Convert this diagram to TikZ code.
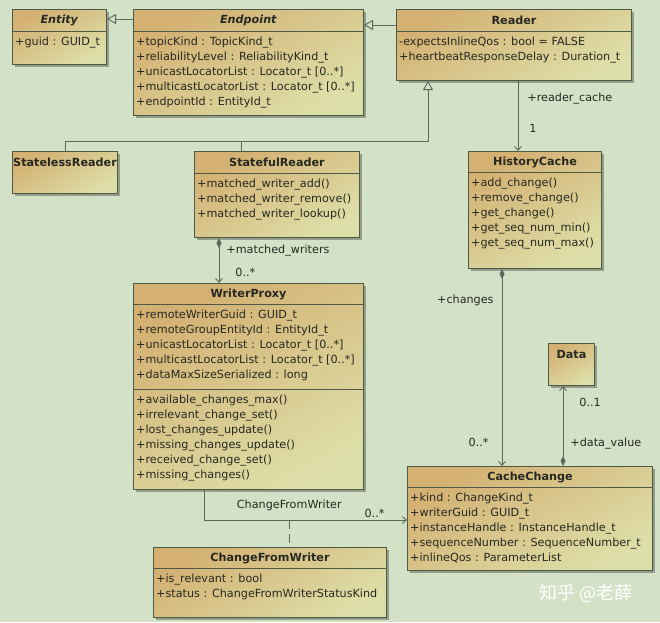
\documentclass[tikz,border=0pt]{standalone}
\usepackage{fontspec}
\setmainfont{DejaVu Sans}
\newfontfamily\cjkfont{Noto Sans CJK SC}
\usepackage{tikz}
\usetikzlibrary{arrows.meta,shadows}

\definecolor{bgcol}{RGB}{211,226,199}
\definecolor{tancol}{RGB}{212,176,114}
\definecolor{palecol}{RGB}{221,223,168}
\definecolor{edgecol}{RGB}{78,90,72}
\definecolor{linecol}{RGB}{92,104,90}
\definecolor{txtcol}{RGB}{38,40,34}

\begin{document}
\begin{tikzpicture}[
  x=1pt, y=-1pt,
  font=\fontsize{11.2}{15}\selectfont, text=txtcol,
  umlclass/.style={draw=edgecol, line width=1pt, anchor=north west,
              inner sep=0pt, top color=tancol, bottom color=palecol,
              shading angle=30,
              drop shadow={shadow xshift=2.5pt, shadow yshift=-2.5pt,
                           opacity=0.3, fill=black}},
  title/.style={font=\fontsize{11.2}{15}\selectfont\bfseries, inner sep=0pt},
  attrs/.style={anchor=north west, align=left, inner sep=0pt},
  sep/.style={draw=edgecol, line width=0.8pt},
  line/.style={draw=linecol, line width=0.9pt},
  gen/.style={line, -{Triangle[open, length=9pt, width=10pt, fill=bgcol]}},
  nav/.style={line, -{Straight Barb[length=4pt, width=7pt]}},
  comp/.style={line, {Diamond[length=10pt, width=5pt]}-{Straight Barb[length=4pt, width=7pt]}},
  lbl/.style={inner sep=1pt}
]
\fill[bgcol] (0,0) rectangle (660,622);
\useasboundingbox (0,0) rectangle (660,622);

% classes
\node[umlclass, minimum width=94pt, minimum height=55pt] (entity) at (12,9) {};
\node[umlclass, minimum width=230pt, minimum height=106pt] (endpoint) at (133,9) {};
\node[umlclass, minimum width=235pt, minimum height=71pt] (reader) at (396,9) {};
\node[umlclass, minimum width=105pt, minimum height=42pt] (stateless) at (12,151) {};
\node[umlclass, minimum width=165pt, minimum height=86pt] (stateful) at (194,151) {};
\node[umlclass, minimum width=133pt, minimum height=117pt] (history) at (468,151) {};
\node[umlclass, minimum width=230pt, minimum height=206pt] (writerproxy) at (133,283) {};
\node[umlclass, minimum width=46pt, minimum height=42pt] (data) at (548,343) {};
\node[umlclass, minimum width=245pt, minimum height=104pt] (cachechange) at (407,466) {};
\node[umlclass, minimum width=233pt, minimum height=70pt] (changefromwriter) at (153,547) {};

% titles
\node[title] (entitytitle) at ([yshift=-11pt]entity.north) {\textit{Entity}};
\node[title] (endpointtitle) at ([yshift=-11pt]endpoint.north) {\textit{Endpoint}};
\node[title] (readertitle) at ([yshift=-11pt]reader.north) {Reader};
\node[title] (statelesstitle) at ([yshift=-11pt]stateless.north) {StatelessReader};
\node[title] (statefultitle) at ([yshift=-11pt]stateful.north) {StatefulReader};
\node[title] (historytitle) at ([yshift=-11pt]history.north) {HistoryCache};
\node[title] (writerproxytitle) at ([yshift=-11pt]writerproxy.north) {WriterProxy};
\node[title] (datatitle) at ([yshift=-11pt]data.north) {Data};
\node[title] (cachechangetitle) at ([yshift=-11pt]cachechange.north) {CacheChange};
\node[title] (changefromwritertitle) at ([yshift=-11pt]changefromwriter.north) {ChangeFromWriter};

% compartments
\draw[sep] ([yshift=-22pt]entity.north west) -- ([yshift=-22pt]entity.north east);
\draw[sep] ([yshift=-22pt]endpoint.north west) -- ([yshift=-22pt]endpoint.north east);
\draw[sep] ([yshift=-22pt]reader.north west) -- ([yshift=-22pt]reader.north east);
\draw[sep] ([yshift=-22pt]stateful.north west) -- ([yshift=-22pt]stateful.north east);
\draw[sep] ([yshift=-21pt]history.north west) -- ([yshift=-21pt]history.north east);
\draw[sep] ([yshift=-21pt]writerproxy.north west) -- ([yshift=-21pt]writerproxy.north east);
\draw[sep] ([yshift=-106pt]writerproxy.north west) -- ([yshift=-106pt]writerproxy.north east);
\draw[sep] ([yshift=-21pt]cachechange.north west) -- ([yshift=-21pt]cachechange.north east);
\draw[sep] ([yshift=-21pt]changefromwriter.north west) -- ([yshift=-21pt]changefromwriter.north east);

% members
\node[attrs] (entityattr) at ([xshift=3pt, yshift=-28pt]entity.north west)
  {+guid : GUID\_t};
\node[attrs] (endpointattr) at ([xshift=3pt, yshift=-28pt]endpoint.north west)
  {+topicKind : TopicKind\_t\\
   +reliabilityLevel : ReliabilityKind\_t\\
   +unicastLocatorList : Locator\_t [0..*]\\
   +multicastLocatorList : Locator\_t [0..*]\\
   +endpointId : EntityId\_t};
\node[attrs] (readerattr) at ([xshift=3pt, yshift=-28pt]reader.north west)
  {-expectsInlineQos : bool = FALSE\\
   +heartbeatResponseDelay : Duration\_t};
\node[attrs] (statefulops) at ([xshift=3pt, yshift=-28pt]stateful.north west)
  {+matched\_writer\_add()\\
   +matched\_writer\_remove()\\
   +matched\_writer\_lookup()};
\node[attrs] (historyops) at ([xshift=3pt, yshift=-27pt]history.north west)
  {+add\_change()\\
   +remove\_change()\\
   +get\_change()\\
   +get\_seq\_num\_min()\\
   +get\_seq\_num\_max()};
\node[attrs] (writerproxyattr) at ([xshift=3pt, yshift=-27pt]writerproxy.north west)
  {+remoteWriterGuid : GUID\_t\\
   +remoteGroupEntityId : EntityId\_t\\
   +unicastLocatorList : Locator\_t [0..*]\\
   +multicastLocatorList : Locator\_t [0..*]\\
   +dataMaxSizeSerialized : long};
\node[attrs] (writerproxyops) at ([xshift=3pt, yshift=-112pt]writerproxy.north west)
  {+available\_changes\_max()\\
   +irrelevant\_change\_set()\\
   +lost\_changes\_update()\\
   +missing\_changes\_update()\\
   +received\_change\_set()\\
   +missing\_changes()};
\node[attrs] (cachechangeattr) at ([xshift=3pt, yshift=-27pt]cachechange.north west)
  {+kind : ChangeKind\_t\\
   +writerGuid : GUID\_t\\
   +instanceHandle : InstanceHandle\_t\\
   +sequenceNumber : SequenceNumber\_t\\
   +inlineQos : ParameterList};
\node[attrs] (changefromwriterattr) at ([xshift=3pt, yshift=-27pt]changefromwriter.north west)
  {+is\_relevant : bool\\
   +status : ChangeFromWriterStatusKind};

% generalizations
\draw[gen] ([yshift=-10pt]endpoint.north west) -- ([yshift=-10pt]entity.north east);
\draw[gen] ([yshift=-16pt]reader.north west) -- ([yshift=-16pt]endpoint.north east);
\coordinate (genbus) at (428,141);
\draw[gen] (stateless.north) |- (genbus) -- (genbus |- reader.south);
\draw[line] ([xshift=-36pt]stateful.north) -- ([xshift=-36pt]stateful.north |- genbus);

% associations
\draw[nav] ([xshift=122pt]reader.south west) -- ([xshift=122pt]reader.south west |- history.north)
  node[lbl, pos=0.25, right=8pt] {+reader\_cache}
  node[lbl, pos=0.68, right=10pt] {1};
\draw[comp] ([xshift=34pt]history.south west) -- ([xshift=34pt]history.south west |- cachechange.north)
  node[lbl, pos=0.16, left=7pt] {+changes}
  node[lbl, pos=0.88, left=12pt] {0..*};
\draw[comp] ([xshift=25pt]stateful.south west) -- ([xshift=25pt]stateful.south west |- writerproxy.north)
  node[lbl, pos=0.28, right=6pt] {+matched\_writers}
  node[lbl, pos=0.76, right=15pt] {0..*};
\draw[comp] ([xshift=156pt]cachechange.north west) -- ([xshift=156pt]cachechange.north west |- data.south)
  node[lbl, pos=0.28, right=6pt] {+data\_value}
  node[lbl, pos=0.79, right=15pt] {0..1};
\draw[nav] ([xshift=71pt]writerproxy.south west) |- ([yshift=-54pt]cachechange.north west)
  coordinate[pos=0.71] (cfwlink)
  node[lbl, pos=0.71, above=8pt] {ChangeFromWriter}
  node[lbl, pos=0.92, above=1pt] {0..*};
\draw[line, dash pattern=on 9pt off 5pt] (cfwlink) -- (cfwlink |- changefromwriter.north);

\node[font=\cjkfont\fontsize{18}{18}\selectfont, text=white, anchor=west] (watermark)
  at (536,593) {知乎 @老薛};
\end{tikzpicture}
\end{document}
